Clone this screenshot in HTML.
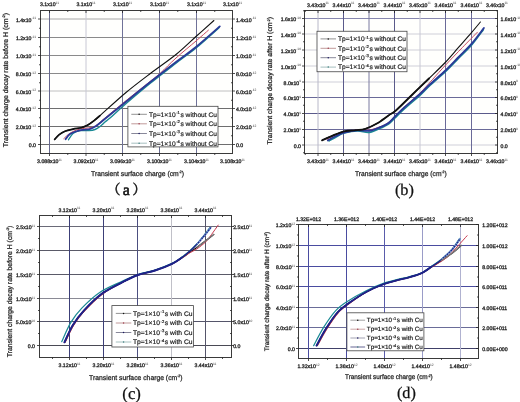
<!DOCTYPE html><html><head><meta charset="utf-8"><title>Transient charge decay rate plots</title><style>html,body{margin:0;padding:0;background:#fff;overflow:hidden;}svg{display:block;filter:blur(0.3px);text-rendering:geometricPrecision;}</style></head><body>
<svg width="520" height="402" viewBox="0 0 520 402" font-family="'Liberation Sans', Arial, sans-serif">
<rect width="520" height="402" fill="#fff"/>
<g>
<rect x="40.50" y="10.50" width="192.00" height="143.00" fill="#fffffd"/>
<line x1="40.50" y1="19.00" x2="232.50" y2="19.00" stroke="#a8a8a8" stroke-width="1.00"/>
<line x1="40.50" y1="37.50" x2="232.50" y2="37.50" stroke="#8a8a8a" stroke-width="1.00"/>
<line x1="40.50" y1="55.50" x2="232.50" y2="55.50" stroke="#8a8a8a" stroke-width="1.00"/>
<line x1="40.50" y1="73.50" x2="232.50" y2="73.50" stroke="#8a8a8a" stroke-width="1.00"/>
<line x1="40.50" y1="91.00" x2="232.50" y2="91.00" stroke="#c0c0c0" stroke-width="1.00"/>
<line x1="40.50" y1="108.50" x2="232.50" y2="108.50" stroke="#6e6e6e" stroke-width="1.00"/>
<line x1="40.50" y1="126.50" x2="232.50" y2="126.50" stroke="#6e6e6e" stroke-width="1.00"/>
<line x1="40.50" y1="144.50" x2="232.50" y2="144.50" stroke="#6e6e6e" stroke-width="1.00"/>
<line x1="49.50" y1="10.50" x2="49.50" y2="153.50" stroke="#66688e" stroke-width="1.00"/>
<line x1="86.00" y1="10.50" x2="86.00" y2="153.50" stroke="#c8c8d4" stroke-width="1.00"/>
<line x1="122.50" y1="10.50" x2="122.50" y2="153.50" stroke="#707298" stroke-width="1.00"/>
<line x1="159.50" y1="10.50" x2="159.50" y2="153.50" stroke="#66688e" stroke-width="1.00"/>
<line x1="196.50" y1="10.50" x2="196.50" y2="153.50" stroke="#707298" stroke-width="1.00"/>
<path d="M68.50,139.80 C69.25,138.75 71.08,135.03 73.00,133.50 C74.92,131.97 77.30,131.08 80.00,130.60 C82.70,130.12 86.70,130.78 89.20,130.60 C91.70,130.42 93.20,130.18 95.00,129.50 C96.80,128.82 98.33,127.75 100.00,126.50 C101.67,125.25 103.33,123.42 105.00,122.00 C106.67,120.58 106.67,120.92 110.00,118.00 C113.33,115.08 118.33,110.25 125.00,104.50 C131.67,98.75 141.50,90.38 150.00,83.50 C158.50,76.62 168.33,69.12 176.00,63.20 C183.67,57.28 188.78,53.95 196.00,48.00 C203.22,42.05 215.42,30.92 219.30,27.50" fill="none" stroke="#1a8a94" stroke-width="1.40" stroke-linecap="round" stroke-linejoin="round"/>
<path d="M63.80,138.60 C64.77,137.75 67.48,134.93 69.60,133.50 C71.72,132.07 74.00,130.87 76.50,130.00 C79.00,129.13 82.02,128.75 84.60,128.30 C87.18,127.85 89.93,127.88 92.00,127.30 C94.07,126.72 94.83,126.35 97.00,124.80 C99.17,123.25 100.33,121.88 105.00,118.00 C109.67,114.12 117.50,107.58 125.00,101.50 C132.50,95.42 144.08,86.25 150.00,81.50 C155.92,76.75 156.17,76.92 160.50,73.00 C164.83,69.08 170.08,63.33 176.00,58.00 C181.92,52.67 190.60,45.63 196.00,41.00 C201.40,36.37 206.33,32.00 208.40,30.20" fill="none" stroke="#c84a60" stroke-width="1.00" stroke-linecap="round" stroke-linejoin="round"/>
<path d="M65.60,139.20 C66.33,138.33 67.80,135.43 70.00,134.00 C72.20,132.57 75.40,131.47 78.80,130.60 C82.20,129.73 87.52,129.57 90.40,128.80 C93.28,128.03 93.60,127.72 96.10,126.00 C98.60,124.28 100.58,122.42 105.40,118.50 C110.22,114.58 117.57,108.53 125.00,102.50 C132.43,96.47 141.50,89.05 150.00,82.30 C158.50,75.55 168.33,67.88 176.00,62.00 C183.67,56.12 188.70,52.93 196.00,47.00 C203.30,41.07 215.83,29.83 219.80,26.40" fill="none" stroke="#2a3a98" stroke-width="1.80" stroke-linecap="round" stroke-linejoin="round"/>
<path d="M54.60,139.50 C55.37,138.68 57.47,135.98 59.20,134.60 C60.93,133.22 62.68,132.12 65.00,131.20 C67.32,130.28 70.40,129.68 73.10,129.10 C75.80,128.52 78.90,128.28 81.20,127.70 C83.50,127.12 84.80,126.75 86.90,125.60 C89.00,124.45 91.62,122.47 93.80,120.80 C95.98,119.13 94.63,120.32 100.00,115.60 C105.37,110.88 117.50,99.60 126.00,92.50 C134.50,85.40 142.67,79.33 151.00,73.00 C159.33,66.67 168.50,60.58 176.00,54.50 C183.50,48.42 189.68,42.17 196.00,36.50 C202.32,30.83 210.92,23.17 213.90,20.50" fill="none" stroke="#111111" stroke-width="1.10" stroke-linecap="round" stroke-linejoin="round"/>
<path d="M54.60,139.50 C55.37,138.68 57.47,135.98 59.20,134.60 C60.93,133.22 62.68,132.12 65.00,131.20 C67.32,130.28 70.40,129.68 73.10,129.10 C75.80,128.52 78.90,128.28 81.20,127.70 C83.50,127.12 84.80,126.75 86.90,125.60 C89.00,124.45 91.62,122.47 93.80,120.80 C95.98,119.13 98.97,116.47 100.00,115.60" fill="none" stroke="#111111" stroke-width="1.70" stroke-linecap="round" stroke-linejoin="round"/>
<rect x="40.50" y="10.50" width="192.00" height="143.00" fill="none" stroke="#3a3a3a" stroke-width="1.00"/>
<path d="M40.50,19.00h-2.50 M232.50,19.00h2.50 M40.50,37.50h-2.50 M232.50,37.50h2.50 M40.50,55.50h-2.50 M232.50,55.50h2.50 M40.50,73.50h-2.50 M232.50,73.50h2.50 M40.50,91.00h-2.50 M232.50,91.00h2.50 M40.50,108.50h-2.50 M232.50,108.50h2.50 M40.50,126.50h-2.50 M232.50,126.50h2.50 M40.50,144.50h-2.50 M232.50,144.50h2.50 M49.50,153.50v2.50 M49.50,10.50v2.50 M86.00,153.50v2.50 M86.00,10.50v2.50 M122.50,153.50v2.50 M122.50,10.50v2.50 M159.50,153.50v2.50 M159.50,10.50v2.50 M196.50,153.50v2.50 M196.50,10.50v2.50 M40.50,28.25h-1.50 M232.50,28.25h-1.50 M40.50,46.75h-1.50 M232.50,46.75h-1.50 M40.50,64.75h-1.50 M232.50,64.75h-1.50 M40.50,82.75h-1.50 M232.50,82.75h-1.50 M40.50,100.25h-1.50 M232.50,100.25h-1.50 M40.50,117.75h-1.50 M232.50,117.75h-1.50 M40.50,135.75h-1.50 M232.50,135.75h-1.50 M67.75,153.50v1.50 M67.75,10.50v1.50 M104.25,153.50v1.50 M104.25,10.50v1.50 M140.75,153.50v1.50 M140.75,10.50v1.50 M177.75,153.50v1.50 M177.75,10.50v1.50 M214.75,153.50v1.50 M214.75,10.50v1.50" stroke="#222" stroke-width="0.8" fill="none"/>
<text x="36.00" y="21.57" font-size="5.20" text-anchor="end" fill="#2a2a2a" stroke="#2a2a2a" stroke-width="0.32">1.4x10<tspan font-size="3.30" dy="-2.18" fill="#444" stroke="none">-11</tspan></text>
<text x="36.00" y="40.07" font-size="5.20" text-anchor="end" fill="#2a2a2a" stroke="#2a2a2a" stroke-width="0.32">1.2x10<tspan font-size="3.30" dy="-2.18" fill="#444" stroke="none">-11</tspan></text>
<text x="36.00" y="58.07" font-size="5.20" text-anchor="end" fill="#2a2a2a" stroke="#2a2a2a" stroke-width="0.32">1.0x10<tspan font-size="3.30" dy="-2.18" fill="#444" stroke="none">-11</tspan></text>
<text x="36.00" y="76.07" font-size="5.20" text-anchor="end" fill="#2a2a2a" stroke="#2a2a2a" stroke-width="0.32">8.0x10<tspan font-size="3.30" dy="-2.18" fill="#444" stroke="none">-12</tspan></text>
<text x="36.00" y="93.57" font-size="5.20" text-anchor="end" fill="#2a2a2a" stroke="#2a2a2a" stroke-width="0.32">6.0x10<tspan font-size="3.30" dy="-2.18" fill="#444" stroke="none">-12</tspan></text>
<text x="36.00" y="111.07" font-size="5.20" text-anchor="end" fill="#2a2a2a" stroke="#2a2a2a" stroke-width="0.32">4.0x10<tspan font-size="3.30" dy="-2.18" fill="#444" stroke="none">-12</tspan></text>
<text x="36.00" y="129.07" font-size="5.20" text-anchor="end" fill="#2a2a2a" stroke="#2a2a2a" stroke-width="0.32">2.0x10<tspan font-size="3.30" dy="-2.18" fill="#444" stroke="none">-12</tspan></text>
<text x="36.00" y="147.07" font-size="5.20" text-anchor="end" fill="#2a2a2a" stroke="#2a2a2a" stroke-width="0.32">0.0</text>
<text x="236.00" y="21.57" font-size="5.20" text-anchor="start" fill="#2a2a2a" stroke="#2a2a2a" stroke-width="0.32">1.4x10<tspan font-size="3.30" dy="-2.18" fill="#444" stroke="none">-11</tspan></text>
<text x="236.00" y="40.07" font-size="5.20" text-anchor="start" fill="#2a2a2a" stroke="#2a2a2a" stroke-width="0.32">1.2x10<tspan font-size="3.30" dy="-2.18" fill="#444" stroke="none">-11</tspan></text>
<text x="236.00" y="58.07" font-size="5.20" text-anchor="start" fill="#2a2a2a" stroke="#2a2a2a" stroke-width="0.32">1.0x10<tspan font-size="3.30" dy="-2.18" fill="#444" stroke="none">-11</tspan></text>
<text x="236.00" y="76.07" font-size="5.20" text-anchor="start" fill="#2a2a2a" stroke="#2a2a2a" stroke-width="0.32">8.0x10<tspan font-size="3.30" dy="-2.18" fill="#444" stroke="none">-12</tspan></text>
<text x="236.00" y="93.57" font-size="5.20" text-anchor="start" fill="#2a2a2a" stroke="#2a2a2a" stroke-width="0.32">6.0x10<tspan font-size="3.30" dy="-2.18" fill="#444" stroke="none">-12</tspan></text>
<text x="236.00" y="111.07" font-size="5.20" text-anchor="start" fill="#2a2a2a" stroke="#2a2a2a" stroke-width="0.32">4.0x10<tspan font-size="3.30" dy="-2.18" fill="#444" stroke="none">-12</tspan></text>
<text x="236.00" y="129.07" font-size="5.20" text-anchor="start" fill="#2a2a2a" stroke="#2a2a2a" stroke-width="0.32">2.0x10<tspan font-size="3.30" dy="-2.18" fill="#444" stroke="none">-12</tspan></text>
<text x="236.00" y="147.07" font-size="5.20" text-anchor="start" fill="#2a2a2a" stroke="#2a2a2a" stroke-width="0.32">0.0</text>
<text x="49.50" y="6.47" font-size="5.20" text-anchor="middle" fill="#2a2a2a" stroke="#2a2a2a" stroke-width="0.32">3.1x10<tspan font-size="3.30" dy="-2.18" fill="#444" stroke="none">11</tspan></text>
<text x="86.00" y="6.47" font-size="5.20" text-anchor="middle" fill="#2a2a2a" stroke="#2a2a2a" stroke-width="0.32">3.1x10<tspan font-size="3.30" dy="-2.18" fill="#444" stroke="none">11</tspan></text>
<text x="122.50" y="6.47" font-size="5.20" text-anchor="middle" fill="#2a2a2a" stroke="#2a2a2a" stroke-width="0.32">3.1x10<tspan font-size="3.30" dy="-2.18" fill="#444" stroke="none">11</tspan></text>
<text x="159.50" y="6.47" font-size="5.20" text-anchor="middle" fill="#2a2a2a" stroke="#2a2a2a" stroke-width="0.32">3.1x10<tspan font-size="3.30" dy="-2.18" fill="#444" stroke="none">11</tspan></text>
<text x="196.50" y="6.47" font-size="5.20" text-anchor="middle" fill="#2a2a2a" stroke="#2a2a2a" stroke-width="0.32">3.1x10<tspan font-size="3.30" dy="-2.18" fill="#444" stroke="none">11</tspan></text>
<text x="232.50" y="6.47" font-size="5.20" text-anchor="middle" fill="#2a2a2a" stroke="#2a2a2a" stroke-width="0.32">3.1x10<tspan font-size="3.30" dy="-2.18" fill="#444" stroke="none">11</tspan></text>
<text x="49.50" y="162.77" font-size="5.20" text-anchor="middle" fill="#2a2a2a" stroke="#2a2a2a" stroke-width="0.32">3.088x10<tspan font-size="3.30" dy="-2.18" fill="#444" stroke="none">11</tspan></text>
<text x="86.00" y="162.77" font-size="5.20" text-anchor="middle" fill="#2a2a2a" stroke="#2a2a2a" stroke-width="0.32">3.092x10<tspan font-size="3.30" dy="-2.18" fill="#444" stroke="none">11</tspan></text>
<text x="122.50" y="162.77" font-size="5.20" text-anchor="middle" fill="#2a2a2a" stroke="#2a2a2a" stroke-width="0.32">3.096x10<tspan font-size="3.30" dy="-2.18" fill="#444" stroke="none">11</tspan></text>
<text x="159.50" y="162.77" font-size="5.20" text-anchor="middle" fill="#2a2a2a" stroke="#2a2a2a" stroke-width="0.32">3.100x10<tspan font-size="3.30" dy="-2.18" fill="#444" stroke="none">11</tspan></text>
<text x="196.50" y="162.77" font-size="5.20" text-anchor="middle" fill="#2a2a2a" stroke="#2a2a2a" stroke-width="0.32">3.104x10<tspan font-size="3.30" dy="-2.18" fill="#444" stroke="none">11</tspan></text>
<text x="232.50" y="162.77" font-size="5.20" text-anchor="middle" fill="#2a2a2a" stroke="#2a2a2a" stroke-width="0.32">3.108x10<tspan font-size="3.30" dy="-2.18" fill="#444" stroke="none">11</tspan></text>
<text transform="translate(7.60,80.10) rotate(-90)" x="0" y="0" font-size="7.00" text-anchor="middle" fill="#222" stroke="#222" stroke-width="0.25" textLength="134.50" lengthAdjust="spacingAndGlyphs">Transient charge decay rate before H (cm<tspan font-size="3.50" dy="-2.80">-2</tspan><tspan dy="2.80">)</tspan></text>
<text x="137.50" y="175.52" font-size="7.00" text-anchor="middle" fill="#222" stroke="#222" stroke-width="0.25" textLength="93.00" lengthAdjust="spacingAndGlyphs">Transient surface charge (cm<tspan font-size="3.50" dy="-2.80">-2</tspan><tspan dy="2.80">)</tspan></text>
<rect x="127.90" y="106.30" width="90.10" height="40.60" fill="#fff" stroke="#444" stroke-width="0.8"/>
<line x1="131.30" y1="114.30" x2="146.90" y2="114.30" stroke="#777777" stroke-width="0.8"/>
<circle cx="139.10" cy="114.30" r="0.75" fill="#111111"/>
<text x="149.00" y="116.68" font-size="6.60" fill="#222" stroke="#222" stroke-width="0.2" textLength="68.00" lengthAdjust="spacingAndGlyphs">Tp=1&#215;10<tspan font-size="4.09" dx="0.6" dy="-2.77">-1</tspan><tspan dx="0.6" dy="2.77">s without Cu</tspan></text>
<line x1="131.30" y1="123.80" x2="146.90" y2="123.80" stroke="#b08080" stroke-width="0.8"/>
<circle cx="139.10" cy="123.80" r="0.75" fill="#a04050"/>
<text x="149.00" y="126.18" font-size="6.60" fill="#222" stroke="#222" stroke-width="0.2" textLength="68.00" lengthAdjust="spacingAndGlyphs">Tp=1&#215;10<tspan font-size="4.09" dx="0.6" dy="-2.77">-2</tspan><tspan dx="0.6" dy="2.77">s without Cu</tspan></text>
<line x1="131.30" y1="133.50" x2="146.90" y2="133.50" stroke="#6a6a80" stroke-width="0.8"/>
<circle cx="139.10" cy="133.50" r="0.75" fill="#1c1a60"/>
<text x="149.00" y="135.88" font-size="6.60" fill="#222" stroke="#222" stroke-width="0.2" textLength="68.00" lengthAdjust="spacingAndGlyphs">Tp=1&#215;10<tspan font-size="4.09" dx="0.6" dy="-2.77">-3</tspan><tspan dx="0.6" dy="2.77">s without Cu</tspan></text>
<line x1="131.30" y1="143.20" x2="146.90" y2="143.20" stroke="#90b0b0" stroke-width="0.8"/>
<circle cx="139.10" cy="143.20" r="0.75" fill="#408080"/>
<text x="149.00" y="145.58" font-size="6.60" fill="#222" stroke="#222" stroke-width="0.2" textLength="68.00" lengthAdjust="spacingAndGlyphs">Tp=1&#215;10<tspan font-size="4.09" dx="0.6" dy="-2.77">-4</tspan><tspan dx="0.6" dy="2.77">s without Cu</tspan></text>
<text x="107.10" y="194.00" font-size="13.40" fill="#111" stroke="#111" stroke-width="0.50" font-family="'Noto Serif CJK SC', serif">&#65288;</text>
<text x="122.80" y="195.00" font-size="15.90" fill="#111" stroke="#111" stroke-width="0.60" font-family="'Liberation Serif', 'Times New Roman', serif">a</text>
<text x="132.40" y="194.00" font-size="13.40" fill="#111" stroke="#111" stroke-width="0.50" font-family="'Noto Serif CJK SC', serif">&#65289;</text>
</g>
<g>
<rect x="304.50" y="10.50" width="193.00" height="143.00" fill="#fffffd"/>
<line x1="304.50" y1="18.50" x2="497.50" y2="18.50" stroke="#8888b0" stroke-width="1.00"/>
<line x1="304.50" y1="34.00" x2="497.50" y2="34.00" stroke="#cfcfd8" stroke-width="1.00"/>
<line x1="304.50" y1="50.00" x2="497.50" y2="50.00" stroke="#cfcfd8" stroke-width="1.00"/>
<line x1="304.50" y1="66.00" x2="497.50" y2="66.00" stroke="#cfcfd8" stroke-width="1.00"/>
<line x1="304.50" y1="82.00" x2="497.50" y2="82.00" stroke="#cfcfd8" stroke-width="1.00"/>
<line x1="304.50" y1="97.50" x2="497.50" y2="97.50" stroke="#6a6a98" stroke-width="1.00"/>
<line x1="304.50" y1="113.50" x2="497.50" y2="113.50" stroke="#5a5a8a" stroke-width="1.00"/>
<line x1="304.50" y1="129.50" x2="497.50" y2="129.50" stroke="#6a6a98" stroke-width="1.00"/>
<line x1="304.50" y1="145.00" x2="497.50" y2="145.00" stroke="#cfcfd8" stroke-width="1.00"/>
<line x1="318.00" y1="10.50" x2="318.00" y2="153.50" stroke="#b8b8c8" stroke-width="1.00"/>
<line x1="343.50" y1="10.50" x2="343.50" y2="153.50" stroke="#5a5a8a" stroke-width="1.00"/>
<line x1="369.00" y1="10.50" x2="369.00" y2="153.50" stroke="#7a7aa0" stroke-width="1.00"/>
<line x1="394.50" y1="10.50" x2="394.50" y2="153.50" stroke="#5a5a8a" stroke-width="1.00"/>
<line x1="420.00" y1="10.50" x2="420.00" y2="153.50" stroke="#c8c8d4" stroke-width="1.00"/>
<line x1="445.50" y1="10.50" x2="445.50" y2="153.50" stroke="#6a6a98" stroke-width="1.00"/>
<line x1="471.50" y1="10.50" x2="471.50" y2="153.50" stroke="#6a6a98" stroke-width="1.00"/>
<path d="M329.00,141.00 C330.33,140.25 334.47,137.83 337.00,136.50 C339.53,135.17 340.75,133.92 344.20,133.00 C347.65,132.08 353.53,131.08 357.70,131.00 C361.87,130.92 365.35,133.00 369.20,132.50 C373.05,132.00 377.65,129.33 380.80,128.00 C383.95,126.67 385.73,126.17 388.10,124.50 C390.47,122.83 392.30,120.58 395.00,118.00 C397.70,115.42 400.05,112.83 404.30,109.00 C408.55,105.17 416.22,98.92 420.50,95.00 C424.78,91.08 425.80,89.42 430.00,85.50 C434.20,81.58 440.92,76.05 445.70,71.50 C450.48,66.95 454.37,62.62 458.70,58.20 C463.03,53.78 467.57,49.78 471.70,45.00 C475.83,40.22 481.53,32.08 483.50,29.50" fill="none" stroke="#1a8a94" stroke-width="1.50" stroke-linecap="round" stroke-linejoin="round"/>
<path d="M326.90,139.40 C328.25,138.67 332.12,136.23 335.00,135.00 C337.88,133.77 340.42,132.83 344.20,132.00 C347.98,131.17 353.53,130.33 357.70,130.00 C361.87,129.67 365.35,130.58 369.20,130.00 C373.05,129.42 377.65,127.70 380.80,126.50 C383.95,125.30 385.73,124.55 388.10,122.80 C390.47,121.05 392.30,118.63 395.00,116.00 C397.70,113.37 400.05,110.92 404.30,107.00 C408.55,103.08 413.77,99.33 420.50,92.50 C427.23,85.67 437.72,73.50 444.70,66.00 C451.68,58.50 456.95,53.13 462.40,47.50 C467.85,41.87 474.90,34.75 477.40,32.20" fill="none" stroke="#c84a60" stroke-width="1.00" stroke-linecap="round" stroke-linejoin="round"/>
<path d="M327.90,140.40 C329.25,139.67 333.28,137.28 336.00,136.00 C338.72,134.72 340.58,133.63 344.20,132.70 C347.82,131.77 353.53,130.72 357.70,130.40 C361.87,130.08 365.35,131.38 369.20,130.80 C373.05,130.22 377.65,128.15 380.80,126.90 C383.95,125.65 385.73,125.03 388.10,123.30 C390.47,121.57 392.30,119.13 395.00,116.50 C397.70,113.87 400.05,111.33 404.30,107.50 C408.55,103.67 416.22,97.37 420.50,93.50 C424.78,89.63 425.80,88.17 430.00,84.30 C434.20,80.43 440.92,74.85 445.70,70.30 C450.48,65.75 454.37,61.43 458.70,57.00 C463.03,52.57 467.50,48.53 471.70,43.70 C475.90,38.87 481.87,30.62 483.90,28.00" fill="none" stroke="#2a3a98" stroke-width="1.90" stroke-linecap="round" stroke-linejoin="round"/>
<path d="M322.10,140.40 C323.87,139.60 329.02,137.12 332.70,135.60 C336.38,134.08 340.35,132.20 344.20,131.30 C348.05,130.40 352.27,130.62 355.80,130.20 C359.33,129.78 361.88,129.92 365.40,128.80 C368.92,127.68 373.05,125.72 376.90,123.50 C380.75,121.28 385.28,117.72 388.50,115.50 C391.72,113.28 392.22,113.70 396.20,110.20 C400.18,106.70 406.93,99.78 412.40,94.50 C417.87,89.22 423.45,83.92 429.00,78.50 C434.55,73.08 440.75,67.22 445.70,62.00 C450.65,56.78 454.37,52.13 458.70,47.20 C463.03,42.27 468.08,36.60 471.70,32.40 C475.32,28.20 478.95,23.73 480.40,22.00" fill="none" stroke="#111111" stroke-width="1.10" stroke-linecap="round" stroke-linejoin="round"/>
<path d="M322.10,140.40 C323.87,139.60 329.02,137.12 332.70,135.60 C336.38,134.08 340.35,132.20 344.20,131.30 C348.05,130.40 352.27,130.62 355.80,130.20 C359.33,129.78 361.88,129.92 365.40,128.80 C368.92,127.68 373.05,125.72 376.90,123.50 C380.75,121.28 385.28,117.72 388.50,115.50 C391.72,113.28 392.22,113.70 396.20,110.20 C400.18,106.70 406.93,99.78 412.40,94.50 C417.87,89.22 426.23,81.17 429.00,78.50" fill="none" stroke="#111111" stroke-width="1.80" stroke-linecap="round" stroke-linejoin="round"/>
<rect x="304.50" y="10.50" width="193.00" height="143.00" fill="none" stroke="#3a3a3a" stroke-width="1.00"/>
<path d="M304.50,18.50h-2.50 M497.50,18.50h-2.50 M304.50,34.00h-2.50 M497.50,34.00h-2.50 M304.50,50.00h-2.50 M497.50,50.00h-2.50 M304.50,66.00h-2.50 M497.50,66.00h-2.50 M304.50,82.00h-2.50 M497.50,82.00h-2.50 M304.50,97.50h-2.50 M497.50,97.50h-2.50 M304.50,113.50h-2.50 M497.50,113.50h-2.50 M304.50,129.50h-2.50 M497.50,129.50h-2.50 M304.50,145.00h-2.50 M497.50,145.00h-2.50 M318.00,153.50v2.50 M318.00,10.50v2.50 M343.50,153.50v2.50 M343.50,10.50v2.50 M369.00,153.50v2.50 M369.00,10.50v2.50 M394.50,153.50v2.50 M394.50,10.50v2.50 M420.00,153.50v2.50 M420.00,10.50v2.50 M445.50,153.50v2.50 M445.50,10.50v2.50 M471.50,153.50v2.50 M471.50,10.50v2.50 M304.50,10.75h-1.50 M497.50,10.75h-1.50 M304.50,26.25h-1.50 M497.50,26.25h-1.50 M304.50,41.75h-1.50 M497.50,41.75h-1.50 M304.50,57.75h-1.50 M497.50,57.75h-1.50 M304.50,73.75h-1.50 M497.50,73.75h-1.50 M304.50,89.75h-1.50 M497.50,89.75h-1.50 M304.50,105.25h-1.50 M497.50,105.25h-1.50 M304.50,121.25h-1.50 M497.50,121.25h-1.50 M304.50,137.25h-1.50 M497.50,137.25h-1.50 M304.50,152.75h-1.50 M497.50,152.75h-1.50 M305.25,153.50v1.50 M305.25,10.50v1.50 M330.75,153.50v1.50 M330.75,10.50v1.50 M356.25,153.50v1.50 M356.25,10.50v1.50 M381.75,153.50v1.50 M381.75,10.50v1.50 M407.25,153.50v1.50 M407.25,10.50v1.50 M432.75,153.50v1.50 M432.75,10.50v1.50 M458.25,153.50v1.50 M458.25,10.50v1.50 M484.25,153.50v1.50 M484.25,10.50v1.50" stroke="#222" stroke-width="0.8" fill="none"/>
<text x="301.00" y="21.07" font-size="5.20" text-anchor="end" fill="#2a2a2a" stroke="#2a2a2a" stroke-width="0.32">1.6x10<tspan font-size="3.30" dy="-2.18" fill="#444" stroke="none">-10</tspan></text>
<text x="301.00" y="36.57" font-size="5.20" text-anchor="end" fill="#2a2a2a" stroke="#2a2a2a" stroke-width="0.32">1.4x10<tspan font-size="3.30" dy="-2.18" fill="#444" stroke="none">-10</tspan></text>
<text x="301.00" y="52.57" font-size="5.20" text-anchor="end" fill="#2a2a2a" stroke="#2a2a2a" stroke-width="0.32">1.2x10<tspan font-size="3.30" dy="-2.18" fill="#444" stroke="none">-10</tspan></text>
<text x="301.00" y="68.57" font-size="5.20" text-anchor="end" fill="#2a2a2a" stroke="#2a2a2a" stroke-width="0.32">1.0x10<tspan font-size="3.30" dy="-2.18" fill="#444" stroke="none">-10</tspan></text>
<text x="301.00" y="84.57" font-size="5.20" text-anchor="end" fill="#2a2a2a" stroke="#2a2a2a" stroke-width="0.32">8.0x10<tspan font-size="3.30" dy="-2.18" fill="#444" stroke="none">9</tspan></text>
<text x="301.00" y="100.07" font-size="5.20" text-anchor="end" fill="#2a2a2a" stroke="#2a2a2a" stroke-width="0.32">6.0x10<tspan font-size="3.30" dy="-2.18" fill="#444" stroke="none">9</tspan></text>
<text x="301.00" y="116.07" font-size="5.20" text-anchor="end" fill="#2a2a2a" stroke="#2a2a2a" stroke-width="0.32">4.0x10<tspan font-size="3.30" dy="-2.18" fill="#444" stroke="none">9</tspan></text>
<text x="301.00" y="132.07" font-size="5.20" text-anchor="end" fill="#2a2a2a" stroke="#2a2a2a" stroke-width="0.32">2.0x10<tspan font-size="3.30" dy="-2.18" fill="#444" stroke="none">9</tspan></text>
<text x="301.00" y="147.57" font-size="5.20" text-anchor="end" fill="#2a2a2a" stroke="#2a2a2a" stroke-width="0.32">0.0</text>
<text x="500.50" y="21.07" font-size="5.20" text-anchor="start" fill="#2a2a2a" stroke="#2a2a2a" stroke-width="0.32">1.6x10<tspan font-size="3.30" dy="-2.18" fill="#444" stroke="none">-10</tspan></text>
<text x="500.50" y="36.57" font-size="5.20" text-anchor="start" fill="#2a2a2a" stroke="#2a2a2a" stroke-width="0.32">1.4x10<tspan font-size="3.30" dy="-2.18" fill="#444" stroke="none">-10</tspan></text>
<text x="500.50" y="52.57" font-size="5.20" text-anchor="start" fill="#2a2a2a" stroke="#2a2a2a" stroke-width="0.32">1.2x10<tspan font-size="3.30" dy="-2.18" fill="#444" stroke="none">-10</tspan></text>
<text x="500.50" y="68.57" font-size="5.20" text-anchor="start" fill="#2a2a2a" stroke="#2a2a2a" stroke-width="0.32">1.0x10<tspan font-size="3.30" dy="-2.18" fill="#444" stroke="none">-10</tspan></text>
<text x="500.50" y="84.57" font-size="5.20" text-anchor="start" fill="#2a2a2a" stroke="#2a2a2a" stroke-width="0.32">8.0x10<tspan font-size="3.30" dy="-2.18" fill="#444" stroke="none">9</tspan></text>
<text x="500.50" y="100.07" font-size="5.20" text-anchor="start" fill="#2a2a2a" stroke="#2a2a2a" stroke-width="0.32">6.0x10<tspan font-size="3.30" dy="-2.18" fill="#444" stroke="none">9</tspan></text>
<text x="500.50" y="116.07" font-size="5.20" text-anchor="start" fill="#2a2a2a" stroke="#2a2a2a" stroke-width="0.32">4.0x10<tspan font-size="3.30" dy="-2.18" fill="#444" stroke="none">9</tspan></text>
<text x="500.50" y="132.07" font-size="5.20" text-anchor="start" fill="#2a2a2a" stroke="#2a2a2a" stroke-width="0.32">2.0x10<tspan font-size="3.30" dy="-2.18" fill="#444" stroke="none">9</tspan></text>
<text x="500.50" y="147.57" font-size="5.20" text-anchor="start" fill="#2a2a2a" stroke="#2a2a2a" stroke-width="0.32">0.0</text>
<text x="318.00" y="6.57" font-size="5.20" text-anchor="middle" fill="#2a2a2a" stroke="#2a2a2a" stroke-width="0.32">3.43x10<tspan font-size="3.30" dy="-2.18" fill="#444" stroke="none">11</tspan></text>
<text x="343.50" y="6.57" font-size="5.20" text-anchor="middle" fill="#2a2a2a" stroke="#2a2a2a" stroke-width="0.32">3.44x10<tspan font-size="3.30" dy="-2.18" fill="#444" stroke="none">11</tspan></text>
<text x="369.00" y="6.57" font-size="5.20" text-anchor="middle" fill="#2a2a2a" stroke="#2a2a2a" stroke-width="0.32">3.44x10<tspan font-size="3.30" dy="-2.18" fill="#444" stroke="none">11</tspan></text>
<text x="394.50" y="6.57" font-size="5.20" text-anchor="middle" fill="#2a2a2a" stroke="#2a2a2a" stroke-width="0.32">3.44x10<tspan font-size="3.30" dy="-2.18" fill="#444" stroke="none">11</tspan></text>
<text x="420.00" y="6.57" font-size="5.20" text-anchor="middle" fill="#2a2a2a" stroke="#2a2a2a" stroke-width="0.32">3.45x10<tspan font-size="3.30" dy="-2.18" fill="#444" stroke="none">11</tspan></text>
<text x="445.50" y="6.57" font-size="5.20" text-anchor="middle" fill="#2a2a2a" stroke="#2a2a2a" stroke-width="0.32">3.46x10<tspan font-size="3.30" dy="-2.18" fill="#444" stroke="none">11</tspan></text>
<text x="471.50" y="6.57" font-size="5.20" text-anchor="middle" fill="#2a2a2a" stroke="#2a2a2a" stroke-width="0.32">3.46x10<tspan font-size="3.30" dy="-2.18" fill="#444" stroke="none">11</tspan></text>
<text x="497.00" y="6.57" font-size="5.20" text-anchor="middle" fill="#2a2a2a" stroke="#2a2a2a" stroke-width="0.32">3.46x10<tspan font-size="3.30" dy="-2.18" fill="#444" stroke="none">11</tspan></text>
<text x="318.00" y="163.32" font-size="5.20" text-anchor="middle" fill="#2a2a2a" stroke="#2a2a2a" stroke-width="0.32">3.43x10<tspan font-size="3.30" dy="-2.18" fill="#444" stroke="none">11</tspan></text>
<text x="343.50" y="163.32" font-size="5.20" text-anchor="middle" fill="#2a2a2a" stroke="#2a2a2a" stroke-width="0.32">3.44x10<tspan font-size="3.30" dy="-2.18" fill="#444" stroke="none">11</tspan></text>
<text x="369.00" y="163.32" font-size="5.20" text-anchor="middle" fill="#2a2a2a" stroke="#2a2a2a" stroke-width="0.32">3.44x10<tspan font-size="3.30" dy="-2.18" fill="#444" stroke="none">11</tspan></text>
<text x="394.50" y="163.32" font-size="5.20" text-anchor="middle" fill="#2a2a2a" stroke="#2a2a2a" stroke-width="0.32">3.44x10<tspan font-size="3.30" dy="-2.18" fill="#444" stroke="none">11</tspan></text>
<text x="420.00" y="163.32" font-size="5.20" text-anchor="middle" fill="#2a2a2a" stroke="#2a2a2a" stroke-width="0.32">3.45x10<tspan font-size="3.30" dy="-2.18" fill="#444" stroke="none">11</tspan></text>
<text x="445.50" y="163.32" font-size="5.20" text-anchor="middle" fill="#2a2a2a" stroke="#2a2a2a" stroke-width="0.32">3.46x10<tspan font-size="3.30" dy="-2.18" fill="#444" stroke="none">11</tspan></text>
<text x="471.50" y="163.32" font-size="5.20" text-anchor="middle" fill="#2a2a2a" stroke="#2a2a2a" stroke-width="0.32">3.46x10<tspan font-size="3.30" dy="-2.18" fill="#444" stroke="none">11</tspan></text>
<text x="497.00" y="163.32" font-size="5.20" text-anchor="middle" fill="#2a2a2a" stroke="#2a2a2a" stroke-width="0.32">3.46x10<tspan font-size="3.30" dy="-2.18" fill="#444" stroke="none">11</tspan></text>
<text transform="translate(272.30,80.75) rotate(-90)" x="0" y="0" font-size="6.90" text-anchor="middle" fill="#222" stroke="#222" stroke-width="0.25" textLength="127.50" lengthAdjust="spacingAndGlyphs">Transient charge decay rate after H (cm<tspan font-size="3.45" dy="-2.76">-2</tspan><tspan dy="2.76">)</tspan></text>
<text x="400.85" y="175.92" font-size="7.00" text-anchor="middle" fill="#222" stroke="#222" stroke-width="0.25" textLength="91.70" lengthAdjust="spacingAndGlyphs">Transient surface charge (cm<tspan font-size="3.50" dy="-2.80">-2</tspan><tspan dy="2.80">)</tspan></text>
<rect x="317.00" y="31.25" width="90.00" height="40.50" fill="#fff" stroke="#444" stroke-width="0.8"/>
<line x1="320.50" y1="38.90" x2="336.00" y2="38.90" stroke="#777777" stroke-width="0.8"/>
<circle cx="328.25" cy="38.90" r="0.75" fill="#111111"/>
<text x="338.00" y="41.28" font-size="6.60" fill="#222" stroke="#222" stroke-width="0.2" textLength="68.00" lengthAdjust="spacingAndGlyphs">Tp=1&#215;10<tspan font-size="4.09" dx="0.6" dy="-2.77">-1</tspan><tspan dx="0.6" dy="2.77">s without Cu</tspan></text>
<line x1="320.50" y1="48.30" x2="336.00" y2="48.30" stroke="#b08080" stroke-width="0.8"/>
<circle cx="328.25" cy="48.30" r="0.75" fill="#a04050"/>
<text x="338.00" y="50.68" font-size="6.60" fill="#222" stroke="#222" stroke-width="0.2" textLength="68.00" lengthAdjust="spacingAndGlyphs">Tp=1&#215;10<tspan font-size="4.09" dx="0.6" dy="-2.77">-2</tspan><tspan dx="0.6" dy="2.77">s without Cu</tspan></text>
<line x1="320.50" y1="57.70" x2="336.00" y2="57.70" stroke="#6a6a80" stroke-width="0.8"/>
<circle cx="328.25" cy="57.70" r="0.75" fill="#1c1a60"/>
<text x="338.00" y="60.08" font-size="6.60" fill="#222" stroke="#222" stroke-width="0.2" textLength="68.00" lengthAdjust="spacingAndGlyphs">Tp=1&#215;10<tspan font-size="4.09" dx="0.6" dy="-2.77">-3</tspan><tspan dx="0.6" dy="2.77">s without Cu</tspan></text>
<line x1="320.50" y1="67.10" x2="336.00" y2="67.10" stroke="#90b0b0" stroke-width="0.8"/>
<circle cx="328.25" cy="67.10" r="0.75" fill="#408080"/>
<text x="338.00" y="69.48" font-size="6.60" fill="#222" stroke="#222" stroke-width="0.2" textLength="68.00" lengthAdjust="spacingAndGlyphs">Tp=1&#215;10<tspan font-size="4.09" dx="0.6" dy="-2.77">-4</tspan><tspan dx="0.6" dy="2.77">s without Cu</tspan></text>
<text x="394.90" y="194.80" font-size="16.30" fill="#111" stroke="#111" stroke-width="0.25" font-family="'Liberation Serif', 'Times New Roman', serif">(b)</text>
</g>
<g>
<rect x="39.50" y="215.50" width="192.00" height="142.00" fill="#ffffff"/>
<line x1="39.50" y1="226.50" x2="231.50" y2="226.50" stroke="#6a6a78" stroke-width="1.00"/>
<line x1="39.50" y1="250.50" x2="231.50" y2="250.50" stroke="#5a5a68" stroke-width="1.00"/>
<line x1="39.50" y1="274.50" x2="231.50" y2="274.50" stroke="#5a5a68" stroke-width="1.00"/>
<line x1="39.50" y1="298.50" x2="231.50" y2="298.50" stroke="#8a8a95" stroke-width="1.00"/>
<line x1="39.50" y1="321.50" x2="231.50" y2="321.50" stroke="#55556a" stroke-width="1.00"/>
<line x1="39.50" y1="345.50" x2="231.50" y2="345.50" stroke="#4a4a55" stroke-width="1.00"/>
<line x1="69.50" y1="215.50" x2="69.50" y2="357.50" stroke="#3c3f78" stroke-width="1.00"/>
<line x1="103.50" y1="215.50" x2="103.50" y2="357.50" stroke="#3c3f78" stroke-width="1.00"/>
<line x1="137.50" y1="215.50" x2="137.50" y2="357.50" stroke="#4c4f80" stroke-width="1.00"/>
<line x1="171.50" y1="215.50" x2="171.50" y2="357.50" stroke="#c0c0c8" stroke-width="1.00"/>
<line x1="205.50" y1="215.50" x2="205.50" y2="357.50" stroke="#55556a" stroke-width="1.00"/>
<path d="M64.90,342.30 C66.32,339.40 70.12,330.23 73.40,324.90 C76.68,319.57 79.75,315.52 84.60,310.30 C89.45,305.08 96.25,298.25 102.50,293.60 C108.75,288.95 116.22,285.50 122.10,282.40 C127.98,279.30 132.32,277.02 137.80,275.00 C143.28,272.98 149.30,272.18 155.00,270.30 C160.70,268.42 167.50,265.78 172.00,263.70 C176.50,261.62 179.10,259.67 182.00,257.80 C184.90,255.93 186.90,254.27 189.40,252.50 C191.90,250.73 194.12,249.28 197.00,247.20 C199.88,245.12 203.90,242.13 206.70,240.00 C209.50,237.87 212.62,235.33 213.80,234.40" fill="none" stroke="#111111" stroke-width="1.20" stroke-linecap="round" stroke-linejoin="round"/>
<path d="M65.30,342.30 C66.73,339.43 70.60,330.38 73.90,325.10 C77.20,319.82 80.25,315.80 85.10,310.60 C89.95,305.40 96.83,298.55 103.00,293.90 C109.17,289.25 116.30,285.82 122.10,282.70 C127.90,279.58 132.32,277.23 137.80,275.20 C143.28,273.17 149.30,272.37 155.00,270.50 C160.70,268.63 167.50,266.08 172.00,264.00 C176.50,261.92 179.10,259.83 182.00,258.00 C184.90,256.17 186.92,254.52 189.40,253.00 C191.88,251.48 194.20,250.73 196.90,248.90 C199.60,247.07 203.17,244.40 205.60,242.00 C208.03,239.60 209.40,237.32 211.50,234.50 C213.60,231.68 217.08,226.67 218.20,225.10" fill="none" stroke="#c83a50" stroke-width="1.00" stroke-linecap="round" stroke-linejoin="round"/>
<path d="M61.70,341.70 C63.20,338.52 67.35,328.20 70.70,322.60 C74.05,317.00 76.97,313.13 81.80,308.10 C86.63,303.07 92.98,296.87 99.70,292.40 C106.42,287.93 115.75,284.28 122.10,281.30 C128.45,278.32 132.32,276.38 137.80,274.50 C143.28,272.62 149.30,271.85 155.00,270.00 C160.70,268.15 167.50,265.57 172.00,263.40 C176.50,261.23 179.10,259.02 182.00,257.00 C184.90,254.98 186.95,253.47 189.40,251.30 C191.85,249.13 194.27,246.67 196.70,244.00 C199.13,241.33 201.78,238.05 204.00,235.30 C206.22,232.55 209.00,228.80 210.00,227.50" fill="none" stroke="#1a8a94" stroke-width="1.20" stroke-linecap="round" stroke-linejoin="round"/>
<path d="M64.40,342.30 C65.82,339.40 69.62,330.23 72.90,324.90 C76.18,319.57 79.25,315.52 84.10,310.30 C88.95,305.08 95.67,298.25 102.00,293.60 C108.33,288.95 116.13,285.50 122.10,282.40 C128.07,279.30 132.32,276.98 137.80,275.00 C143.28,273.02 149.30,272.37 155.00,270.50 C160.70,268.63 167.50,265.97 172.00,263.80 C176.50,261.63 179.10,259.53 182.00,257.50 C184.90,255.47 186.95,253.77 189.40,251.60 C191.85,249.43 194.18,247.18 196.70,244.50 C199.22,241.82 202.18,238.28 204.50,235.50 C206.82,232.72 209.58,229.08 210.60,227.80" fill="none" stroke="#1e2288" stroke-width="1.40" stroke-linecap="round" stroke-linejoin="round"/>
<path d="M64.40,342.30 C65.82,339.40 69.62,330.23 72.90,324.90 C76.18,319.57 79.25,315.52 84.10,310.30 C88.95,305.08 95.67,298.25 102.00,293.60 C108.33,288.95 116.13,285.50 122.10,282.40 C128.07,279.30 132.32,276.98 137.80,275.00 C143.28,273.02 149.30,272.37 155.00,270.50 C160.70,268.63 167.50,265.97 172.00,263.80 C176.50,261.63 180.33,258.55 182.00,257.50" fill="none" stroke="#1e2288" stroke-width="1.90" stroke-linecap="round" stroke-linejoin="round"/>
<path d="M196.70,244.50 C198.00,243.00 202.18,238.28 204.50,235.50 C206.82,232.72 209.58,229.08 210.60,227.80" fill="none" stroke="#7fa6d6" stroke-width="1.80" stroke-linecap="round"/>
<path d="M196.70,244.50 C198.00,243.00 202.18,238.28 204.50,235.50 C206.82,232.72 209.58,229.08 210.60,227.80" fill="none" stroke="#1e2288" stroke-width="1.30" stroke-linecap="round" stroke-dasharray="0.6 2"/>
<path d="M197.00,247.20 C198.62,246.00 203.90,242.13 206.70,240.00 C209.50,237.87 212.62,235.33 213.80,234.40" fill="none" stroke="#7a7a7a" stroke-width="1.30" stroke-linecap="round" stroke-dasharray="1 1"/>
<rect x="39.50" y="215.50" width="192.00" height="142.00" fill="none" stroke="#3a3a3a" stroke-width="1.00"/>
<path d="M39.50,226.50h-2.50 M231.50,226.50h2.50 M39.50,250.50h-2.50 M231.50,250.50h2.50 M39.50,274.50h-2.50 M231.50,274.50h2.50 M39.50,298.50h-2.50 M231.50,298.50h2.50 M39.50,321.50h-2.50 M231.50,321.50h2.50 M39.50,345.50h-2.50 M231.50,345.50h2.50 M69.50,357.50v2.50 M69.50,215.50v2.50 M103.50,357.50v2.50 M103.50,215.50v2.50 M137.50,357.50v2.50 M137.50,215.50v2.50 M171.50,357.50v2.50 M171.50,215.50v2.50 M205.50,357.50v2.50 M205.50,215.50v2.50 M39.50,238.50h-1.50 M231.50,238.50h-1.50 M39.50,262.50h-1.50 M231.50,262.50h-1.50 M39.50,286.50h-1.50 M231.50,286.50h-1.50 M39.50,310.50h-1.50 M231.50,310.50h-1.50 M39.50,333.50h-1.50 M231.50,333.50h-1.50 M52.50,357.50v1.50 M52.50,215.50v1.50 M86.50,357.50v1.50 M86.50,215.50v1.50 M120.50,357.50v1.50 M120.50,215.50v1.50 M154.50,357.50v1.50 M154.50,215.50v1.50 M188.50,357.50v1.50 M188.50,215.50v1.50 M222.50,357.50v1.50 M222.50,215.50v1.50" stroke="#222" stroke-width="0.8" fill="none"/>
<text x="35.00" y="229.07" font-size="5.20" text-anchor="end" fill="#2a2a2a" stroke="#2a2a2a" stroke-width="0.32">2.5x10<tspan font-size="3.30" dy="-2.18" fill="#444" stroke="none">11</tspan></text>
<text x="35.00" y="253.07" font-size="5.20" text-anchor="end" fill="#2a2a2a" stroke="#2a2a2a" stroke-width="0.32">2.0x10<tspan font-size="3.30" dy="-2.18" fill="#444" stroke="none">11</tspan></text>
<text x="35.00" y="277.07" font-size="5.20" text-anchor="end" fill="#2a2a2a" stroke="#2a2a2a" stroke-width="0.32">1.5x10<tspan font-size="3.30" dy="-2.18" fill="#444" stroke="none">11</tspan></text>
<text x="35.00" y="301.07" font-size="5.20" text-anchor="end" fill="#2a2a2a" stroke="#2a2a2a" stroke-width="0.32">1.0x10<tspan font-size="3.30" dy="-2.18" fill="#444" stroke="none">11</tspan></text>
<text x="35.00" y="324.07" font-size="5.20" text-anchor="end" fill="#2a2a2a" stroke="#2a2a2a" stroke-width="0.32">5.0x10<tspan font-size="3.30" dy="-2.18" fill="#444" stroke="none">10</tspan></text>
<text x="35.00" y="348.07" font-size="5.20" text-anchor="end" fill="#2a2a2a" stroke="#2a2a2a" stroke-width="0.32">0.0</text>
<text x="233.20" y="229.07" font-size="5.20" text-anchor="start" fill="#2a2a2a" stroke="#2a2a2a" stroke-width="0.32">2.5x10<tspan font-size="3.30" dy="-2.18" fill="#444" stroke="none">11</tspan></text>
<text x="233.20" y="253.07" font-size="5.20" text-anchor="start" fill="#2a2a2a" stroke="#2a2a2a" stroke-width="0.32">2.0x10<tspan font-size="3.30" dy="-2.18" fill="#444" stroke="none">11</tspan></text>
<text x="233.20" y="277.07" font-size="5.20" text-anchor="start" fill="#2a2a2a" stroke="#2a2a2a" stroke-width="0.32">1.5x10<tspan font-size="3.30" dy="-2.18" fill="#444" stroke="none">11</tspan></text>
<text x="233.20" y="301.07" font-size="5.20" text-anchor="start" fill="#2a2a2a" stroke="#2a2a2a" stroke-width="0.32">1.0x10<tspan font-size="3.30" dy="-2.18" fill="#444" stroke="none">11</tspan></text>
<text x="233.20" y="324.07" font-size="5.20" text-anchor="start" fill="#2a2a2a" stroke="#2a2a2a" stroke-width="0.32">5.0x10<tspan font-size="3.30" dy="-2.18" fill="#444" stroke="none">10</tspan></text>
<text x="233.20" y="348.07" font-size="5.20" text-anchor="start" fill="#2a2a2a" stroke="#2a2a2a" stroke-width="0.32">0.0</text>
<text x="69.50" y="211.57" font-size="5.20" text-anchor="middle" fill="#2a2a2a" stroke="#2a2a2a" stroke-width="0.32">3.12x10<tspan font-size="3.30" dy="-2.18" fill="#444" stroke="none">11</tspan></text>
<text x="103.50" y="211.57" font-size="5.20" text-anchor="middle" fill="#2a2a2a" stroke="#2a2a2a" stroke-width="0.32">3.20x10<tspan font-size="3.30" dy="-2.18" fill="#444" stroke="none">11</tspan></text>
<text x="137.50" y="211.57" font-size="5.20" text-anchor="middle" fill="#2a2a2a" stroke="#2a2a2a" stroke-width="0.32">3.28x10<tspan font-size="3.30" dy="-2.18" fill="#444" stroke="none">11</tspan></text>
<text x="171.50" y="211.57" font-size="5.20" text-anchor="middle" fill="#2a2a2a" stroke="#2a2a2a" stroke-width="0.32">3.36x10<tspan font-size="3.30" dy="-2.18" fill="#444" stroke="none">11</tspan></text>
<text x="205.50" y="211.57" font-size="5.20" text-anchor="middle" fill="#2a2a2a" stroke="#2a2a2a" stroke-width="0.32">3.44x10<tspan font-size="3.30" dy="-2.18" fill="#444" stroke="none">11</tspan></text>
<text x="69.50" y="367.37" font-size="5.20" text-anchor="middle" fill="#2a2a2a" stroke="#2a2a2a" stroke-width="0.32">3.12x10<tspan font-size="3.30" dy="-2.18" fill="#444" stroke="none">11</tspan></text>
<text x="103.50" y="367.37" font-size="5.20" text-anchor="middle" fill="#2a2a2a" stroke="#2a2a2a" stroke-width="0.32">3.20x10<tspan font-size="3.30" dy="-2.18" fill="#444" stroke="none">11</tspan></text>
<text x="137.50" y="367.37" font-size="5.20" text-anchor="middle" fill="#2a2a2a" stroke="#2a2a2a" stroke-width="0.32">3.28x10<tspan font-size="3.30" dy="-2.18" fill="#444" stroke="none">11</tspan></text>
<text x="171.50" y="367.37" font-size="5.20" text-anchor="middle" fill="#2a2a2a" stroke="#2a2a2a" stroke-width="0.32">3.36x10<tspan font-size="3.30" dy="-2.18" fill="#444" stroke="none">11</tspan></text>
<text x="205.50" y="367.37" font-size="5.20" text-anchor="middle" fill="#2a2a2a" stroke="#2a2a2a" stroke-width="0.32">3.44x10<tspan font-size="3.30" dy="-2.18" fill="#444" stroke="none">11</tspan></text>
<text transform="translate(11.80,291.40) rotate(-90)" x="0" y="0" font-size="7.00" text-anchor="middle" fill="#222" stroke="#222" stroke-width="0.25" textLength="131.50" lengthAdjust="spacingAndGlyphs">Transient charge decay rate before H (cm<tspan font-size="3.50" dy="-2.80">-2</tspan><tspan dy="2.80">)</tspan></text>
<text x="135.80" y="379.52" font-size="7.00" text-anchor="middle" fill="#222" stroke="#222" stroke-width="0.25" textLength="93.40" lengthAdjust="spacingAndGlyphs">Transient surface charge (cm<tspan font-size="3.50" dy="-2.80">-2</tspan><tspan dy="2.80">)</tspan></text>
<rect x="111.90" y="305.60" width="81.50" height="41.40" fill="#fff" stroke="#444" stroke-width="0.8"/>
<line x1="115.80" y1="313.40" x2="131.30" y2="313.40" stroke="#777777" stroke-width="0.8"/>
<circle cx="123.55" cy="313.40" r="0.75" fill="#111111"/>
<text x="133.00" y="315.78" font-size="6.60" fill="#222" stroke="#222" stroke-width="0.2" textLength="59.50" lengthAdjust="spacingAndGlyphs">Tp=1&#215;10<tspan font-size="4.09" dx="0.6" dy="-2.77">-1</tspan><tspan dx="0.6" dy="2.77">s with Cu</tspan></text>
<line x1="115.80" y1="323.00" x2="131.30" y2="323.00" stroke="#b08080" stroke-width="0.8"/>
<circle cx="123.55" cy="323.00" r="0.75" fill="#a04050"/>
<text x="133.00" y="325.38" font-size="6.60" fill="#222" stroke="#222" stroke-width="0.2" textLength="59.50" lengthAdjust="spacingAndGlyphs">Tp=1&#215;10<tspan font-size="4.09" dx="0.6" dy="-2.77">-2</tspan><tspan dx="0.6" dy="2.77">s with Cu</tspan></text>
<line x1="115.80" y1="332.50" x2="131.30" y2="332.50" stroke="#6a6a80" stroke-width="0.8"/>
<circle cx="123.55" cy="332.50" r="0.75" fill="#1c1a60"/>
<text x="133.00" y="334.88" font-size="6.60" fill="#222" stroke="#222" stroke-width="0.2" textLength="59.50" lengthAdjust="spacingAndGlyphs">Tp=1&#215;10<tspan font-size="4.09" dx="0.6" dy="-2.77">-3</tspan><tspan dx="0.6" dy="2.77">s with Cu</tspan></text>
<line x1="115.80" y1="342.00" x2="131.30" y2="342.00" stroke="#90b0b0" stroke-width="0.8"/>
<circle cx="123.55" cy="342.00" r="0.75" fill="#408080"/>
<text x="133.00" y="344.38" font-size="6.60" fill="#222" stroke="#222" stroke-width="0.2" textLength="59.50" lengthAdjust="spacingAndGlyphs">Tp=1&#215;10<tspan font-size="4.09" dx="0.6" dy="-2.77">-4</tspan><tspan dx="0.6" dy="2.77">s with Cu</tspan></text>
<text x="122.30" y="398.50" font-size="16.80" fill="#111" stroke="#111" stroke-width="0.25" font-family="'Liberation Serif', 'Times New Roman', serif">(c)</text>
</g>
<g>
<rect x="298.50" y="224.50" width="180.00" height="134.00" fill="#ffffff"/>
<line x1="298.50" y1="224.50" x2="478.50" y2="224.50" stroke="#4a4ca0" stroke-width="1.00"/>
<line x1="298.50" y1="245.50" x2="478.50" y2="245.50" stroke="#4a4ca0" stroke-width="1.00"/>
<line x1="298.50" y1="266.50" x2="478.50" y2="266.50" stroke="#4a4ca0" stroke-width="1.00"/>
<line x1="298.50" y1="286.50" x2="478.50" y2="286.50" stroke="#4a4ca0" stroke-width="1.00"/>
<line x1="298.50" y1="307.50" x2="478.50" y2="307.50" stroke="#6a6c98" stroke-width="1.00"/>
<line x1="298.50" y1="327.50" x2="478.50" y2="327.50" stroke="#6a6c98" stroke-width="1.00"/>
<line x1="298.50" y1="348.50" x2="478.50" y2="348.50" stroke="#404068" stroke-width="1.00"/>
<line x1="308.50" y1="224.50" x2="308.50" y2="358.50" stroke="#4a4ca0" stroke-width="1.00"/>
<line x1="346.50" y1="224.50" x2="346.50" y2="358.50" stroke="#4a4ca0" stroke-width="1.00"/>
<line x1="384.50" y1="224.50" x2="384.50" y2="358.50" stroke="#5a5cab" stroke-width="1.00"/>
<line x1="422.50" y1="224.50" x2="422.50" y2="358.50" stroke="#9a9cc8" stroke-width="1.00"/>
<line x1="460.50" y1="224.50" x2="460.50" y2="358.50" stroke="#b0b2d0" stroke-width="1.00"/>
<path d="M317.00,345.60 C318.58,342.77 322.95,334.20 326.50,328.60 C330.05,323.00 334.38,316.33 338.30,312.00 C342.22,307.67 345.35,305.93 350.00,302.60 C354.65,299.27 360.75,295.05 366.20,292.00 C371.65,288.95 377.07,286.42 382.70,284.30 C388.33,282.18 395.90,280.42 400.00,279.30 C404.10,278.18 403.78,278.57 407.30,277.60 C410.82,276.63 417.05,275.27 421.10,273.50 C425.15,271.73 428.22,269.17 431.60,267.00 C434.98,264.83 437.93,262.83 441.40,260.50 C444.87,258.17 449.12,255.50 452.40,253.00 C455.68,250.50 459.65,246.75 461.10,245.50" fill="none" stroke="#111111" stroke-width="1.20" stroke-linecap="round" stroke-linejoin="round"/>
<path d="M317.60,345.60 C319.18,342.80 323.55,334.35 327.10,328.80 C330.65,323.25 335.00,316.62 338.90,312.30 C342.80,307.98 345.95,306.23 350.50,302.90 C355.05,299.57 360.83,295.33 366.20,292.30 C371.57,289.27 377.07,286.78 382.70,284.70 C388.33,282.62 395.90,280.92 400.00,279.80 C404.10,278.68 403.78,279.03 407.30,278.00 C410.82,276.97 417.05,275.40 421.10,273.60 C425.15,271.80 427.30,269.88 431.60,267.20 C435.90,264.52 442.53,261.03 446.90,257.50 C451.27,253.97 454.43,249.63 457.80,246.00 C461.17,242.37 465.55,237.42 467.10,235.70" fill="none" stroke="#c83a50" stroke-width="1.00" stroke-linecap="round" stroke-linejoin="round"/>
<path d="M313.70,345.60 C315.35,342.57 319.97,333.20 323.60,327.40 C327.23,321.60 331.55,315.13 335.50,310.80 C339.45,306.47 342.18,304.75 347.30,301.40 C352.42,298.05 360.30,293.67 366.20,290.70 C372.10,287.73 377.07,285.57 382.70,283.60 C388.33,281.63 395.90,279.95 400.00,278.90 C404.10,277.85 403.78,278.28 407.30,277.30 C410.82,276.32 417.05,274.85 421.10,273.00 C425.15,271.15 428.22,268.50 431.60,266.20 C434.98,263.90 437.93,262.10 441.40,259.20 C444.87,256.30 449.38,252.25 452.40,248.80 C455.42,245.35 458.32,240.22 459.50,238.50" fill="none" stroke="#1a8a94" stroke-width="1.20" stroke-linecap="round" stroke-linejoin="round"/>
<path d="M316.50,345.60 C318.08,342.77 322.45,334.20 326.00,328.60 C329.55,323.00 333.87,316.33 337.80,312.00 C341.73,307.67 344.87,305.93 349.60,302.60 C354.33,299.27 360.68,295.02 366.20,292.00 C371.72,288.98 377.07,286.58 382.70,284.50 C388.33,282.42 395.90,280.62 400.00,279.50 C404.10,278.38 403.78,278.82 407.30,277.80 C410.82,276.78 417.05,275.27 421.10,273.40 C425.15,271.53 428.22,268.88 431.60,266.60 C434.98,264.32 437.93,262.58 441.40,259.70 C444.87,256.82 449.30,252.77 452.40,249.30 C455.50,245.83 458.73,240.63 460.00,238.90" fill="none" stroke="#1e2288" stroke-width="1.40" stroke-linecap="round" stroke-linejoin="round"/>
<path d="M316.50,345.60 C318.08,342.77 322.45,334.20 326.00,328.60 C329.55,323.00 333.87,316.33 337.80,312.00 C341.73,307.67 344.87,305.93 349.60,302.60 C354.33,299.27 360.68,295.02 366.20,292.00 C371.72,288.98 377.07,286.58 382.70,284.50 C388.33,282.42 395.90,280.62 400.00,279.50 C404.10,278.38 403.78,278.82 407.30,277.80 C410.82,276.78 417.05,275.27 421.10,273.40 C425.15,271.53 429.85,267.73 431.60,266.60" fill="none" stroke="#1e2288" stroke-width="1.80" stroke-linecap="round" stroke-linejoin="round"/>
<path d="M441.40,259.70 C443.23,257.97 449.30,252.77 452.40,249.30 C455.50,245.83 458.73,240.63 460.00,238.90" fill="none" stroke="#7fa6d6" stroke-width="1.80" stroke-linecap="round"/>
<path d="M441.40,259.70 C443.23,257.97 449.30,252.77 452.40,249.30 C455.50,245.83 458.73,240.63 460.00,238.90" fill="none" stroke="#1e2288" stroke-width="1.30" stroke-linecap="round" stroke-dasharray="0.6 2"/>
<path d="M441.40,260.50 C443.23,259.25 449.12,255.50 452.40,253.00 C455.68,250.50 459.65,246.75 461.10,245.50" fill="none" stroke="#7a7a7a" stroke-width="1.30" stroke-linecap="round" stroke-dasharray="1 1"/>
<rect x="298.50" y="224.50" width="180.00" height="134.00" fill="none" stroke="#3a3a3a" stroke-width="1.00"/>
<path d="M298.50,224.50h-2.50 M478.50,224.50h-2.50 M298.50,245.50h-2.50 M478.50,245.50h-2.50 M298.50,266.50h-2.50 M478.50,266.50h-2.50 M298.50,286.50h-2.50 M478.50,286.50h-2.50 M298.50,307.50h-2.50 M478.50,307.50h-2.50 M298.50,327.50h-2.50 M478.50,327.50h-2.50 M298.50,348.50h-2.50 M478.50,348.50h-2.50 M308.50,358.50v2.50 M308.50,224.50v2.50 M346.50,358.50v2.50 M346.50,224.50v2.50 M384.50,358.50v2.50 M384.50,224.50v2.50 M422.50,358.50v2.50 M422.50,224.50v2.50 M460.50,358.50v2.50 M460.50,224.50v2.50 M298.50,235.00h-1.50 M478.50,235.00h-1.50 M298.50,256.00h-1.50 M478.50,256.00h-1.50 M298.50,277.00h-1.50 M478.50,277.00h-1.50 M298.50,297.00h-1.50 M478.50,297.00h-1.50 M298.50,318.00h-1.50 M478.50,318.00h-1.50 M298.50,338.00h-1.50 M478.50,338.00h-1.50 M327.50,358.50v1.50 M327.50,224.50v1.50 M365.50,358.50v1.50 M365.50,224.50v1.50 M403.50,358.50v1.50 M403.50,224.50v1.50 M441.50,358.50v1.50 M441.50,224.50v1.50" stroke="#222" stroke-width="0.8" fill="none"/>
<text x="295.00" y="227.07" font-size="5.20" text-anchor="end" fill="#2a2a2a" stroke="#2a2a2a" stroke-width="0.32">1.2x10<tspan font-size="3.30" dy="-2.18" fill="#444" stroke="none">12</tspan></text>
<text x="295.00" y="248.07" font-size="5.20" text-anchor="end" fill="#2a2a2a" stroke="#2a2a2a" stroke-width="0.32">1.0x10<tspan font-size="3.30" dy="-2.18" fill="#444" stroke="none">12</tspan></text>
<text x="295.00" y="269.07" font-size="5.20" text-anchor="end" fill="#2a2a2a" stroke="#2a2a2a" stroke-width="0.32">8.0x10<tspan font-size="3.30" dy="-2.18" fill="#444" stroke="none">11</tspan></text>
<text x="295.00" y="289.07" font-size="5.20" text-anchor="end" fill="#2a2a2a" stroke="#2a2a2a" stroke-width="0.32">6.0x10<tspan font-size="3.30" dy="-2.18" fill="#444" stroke="none">11</tspan></text>
<text x="295.00" y="310.07" font-size="5.20" text-anchor="end" fill="#2a2a2a" stroke="#2a2a2a" stroke-width="0.32">4.0x10<tspan font-size="3.30" dy="-2.18" fill="#444" stroke="none">11</tspan></text>
<text x="295.00" y="330.07" font-size="5.20" text-anchor="end" fill="#2a2a2a" stroke="#2a2a2a" stroke-width="0.32">2.0x10<tspan font-size="3.30" dy="-2.18" fill="#444" stroke="none">11</tspan></text>
<text x="295.00" y="351.07" font-size="5.20" text-anchor="end" fill="#2a2a2a" stroke="#2a2a2a" stroke-width="0.32">0.0</text>
<text x="482.30" y="227.07" font-size="5.20" text-anchor="start" fill="#2a2a2a" stroke="#2a2a2a" stroke-width="0.32">1.20E+012</text>
<text x="482.30" y="248.07" font-size="5.20" text-anchor="start" fill="#2a2a2a" stroke="#2a2a2a" stroke-width="0.32">1.00E+012</text>
<text x="482.30" y="269.07" font-size="5.20" text-anchor="start" fill="#2a2a2a" stroke="#2a2a2a" stroke-width="0.32">8.00E+011</text>
<text x="482.30" y="289.07" font-size="5.20" text-anchor="start" fill="#2a2a2a" stroke="#2a2a2a" stroke-width="0.32">6.00E+011</text>
<text x="482.30" y="310.07" font-size="5.20" text-anchor="start" fill="#2a2a2a" stroke="#2a2a2a" stroke-width="0.32">4.00E+011</text>
<text x="482.30" y="330.07" font-size="5.20" text-anchor="start" fill="#2a2a2a" stroke="#2a2a2a" stroke-width="0.32">2.00E+011</text>
<text x="482.30" y="351.07" font-size="5.20" text-anchor="start" fill="#2a2a2a" stroke="#2a2a2a" stroke-width="0.32">0.00E+000</text>
<text x="308.50" y="221.37" font-size="5.20" text-anchor="middle" fill="#2a2a2a" stroke="#2a2a2a" stroke-width="0.32">1.32E+012</text>
<text x="346.50" y="221.37" font-size="5.20" text-anchor="middle" fill="#2a2a2a" stroke="#2a2a2a" stroke-width="0.32">1.36E+012</text>
<text x="384.50" y="221.37" font-size="5.20" text-anchor="middle" fill="#2a2a2a" stroke="#2a2a2a" stroke-width="0.32">1.40E+012</text>
<text x="422.50" y="221.37" font-size="5.20" text-anchor="middle" fill="#2a2a2a" stroke="#2a2a2a" stroke-width="0.32">1.44E+012</text>
<text x="460.50" y="221.37" font-size="5.20" text-anchor="middle" fill="#2a2a2a" stroke="#2a2a2a" stroke-width="0.32">1.48E+012</text>
<text x="308.50" y="368.17" font-size="5.20" text-anchor="middle" fill="#2a2a2a" stroke="#2a2a2a" stroke-width="0.32">1.32x10<tspan font-size="3.30" dy="-2.18" fill="#444" stroke="none">12</tspan></text>
<text x="346.50" y="368.17" font-size="5.20" text-anchor="middle" fill="#2a2a2a" stroke="#2a2a2a" stroke-width="0.32">1.36x10<tspan font-size="3.30" dy="-2.18" fill="#444" stroke="none">12</tspan></text>
<text x="384.50" y="368.17" font-size="5.20" text-anchor="middle" fill="#2a2a2a" stroke="#2a2a2a" stroke-width="0.32">1.40x10<tspan font-size="3.30" dy="-2.18" fill="#444" stroke="none">12</tspan></text>
<text x="422.50" y="368.17" font-size="5.20" text-anchor="middle" fill="#2a2a2a" stroke="#2a2a2a" stroke-width="0.32">1.44x10<tspan font-size="3.30" dy="-2.18" fill="#444" stroke="none">12</tspan></text>
<text x="460.50" y="368.17" font-size="5.20" text-anchor="middle" fill="#2a2a2a" stroke="#2a2a2a" stroke-width="0.32">1.48x10<tspan font-size="3.30" dy="-2.18" fill="#444" stroke="none">12</tspan></text>
<text transform="translate(269.40,291.50) rotate(-90)" x="0" y="0" font-size="6.50" text-anchor="middle" fill="#222" stroke="#222" stroke-width="0.25" textLength="119.50" lengthAdjust="spacingAndGlyphs">Transient charge decay rate after H (cm<tspan font-size="3.25" dy="-2.60">-2</tspan><tspan dy="2.60">)</tspan></text>
<text x="388.80" y="379.45" font-size="6.80" text-anchor="middle" fill="#222" stroke="#222" stroke-width="0.25" textLength="87.60" lengthAdjust="spacingAndGlyphs">Transient surface charge (cm<tspan font-size="3.40" dy="-2.72">-2</tspan><tspan dy="2.72">)</tspan></text>
<rect x="346.90" y="312.80" width="77.00" height="38.00" fill="#fff" stroke="#444" stroke-width="0.8"/>
<line x1="350.40" y1="320.20" x2="365.10" y2="320.20" stroke="#8a8a8a" stroke-width="0.8"/>
<circle cx="357.75" cy="320.20" r="0.75" fill="#111111"/>
<text x="366.80" y="322.43" font-size="6.20" fill="#222" stroke="#222" stroke-width="0.2" textLength="56.00" lengthAdjust="spacingAndGlyphs">Tp=1&#215;10<tspan font-size="3.84" dx="0.6" dy="-2.60">-1</tspan><tspan dx="0.6" dy="2.60">s with Cu</tspan></text>
<line x1="350.40" y1="329.20" x2="365.10" y2="329.20" stroke="#c09090" stroke-width="0.8"/>
<circle cx="357.75" cy="329.20" r="0.75" fill="#a04050"/>
<text x="366.80" y="331.43" font-size="6.20" fill="#222" stroke="#222" stroke-width="0.2" textLength="56.00" lengthAdjust="spacingAndGlyphs">Tp=1&#215;10<tspan font-size="3.84" dx="0.6" dy="-2.60">-2</tspan><tspan dx="0.6" dy="2.60">s with Cu</tspan></text>
<line x1="350.40" y1="338.00" x2="365.10" y2="338.00" stroke="#8a8aa0" stroke-width="0.8"/>
<circle cx="357.75" cy="338.00" r="0.75" fill="#1c1a60"/>
<text x="366.80" y="340.23" font-size="6.20" fill="#222" stroke="#222" stroke-width="0.2" textLength="56.00" lengthAdjust="spacingAndGlyphs">Tp=1&#215;10<tspan font-size="3.84" dx="0.6" dy="-2.60">-3</tspan><tspan dx="0.6" dy="2.60">s with Cu</tspan></text>
<line x1="350.40" y1="347.00" x2="365.10" y2="347.00" stroke="#40407a" stroke-width="0.8"/>
<circle cx="357.75" cy="347.00" r="0.75" fill="#408080"/>
<text x="366.80" y="349.23" font-size="6.20" fill="#222" stroke="#222" stroke-width="0.2" textLength="56.00" lengthAdjust="spacingAndGlyphs">Tp=1&#215;10<tspan font-size="3.84" dx="0.6" dy="-2.60">-4</tspan><tspan dx="0.6" dy="2.60">s with Cu</tspan></text>
<text x="396.90" y="398.20" font-size="16.30" fill="#111" stroke="#111" stroke-width="0.25" font-family="'Liberation Serif', 'Times New Roman', serif">(d)</text>
</g>
</svg></body></html>
